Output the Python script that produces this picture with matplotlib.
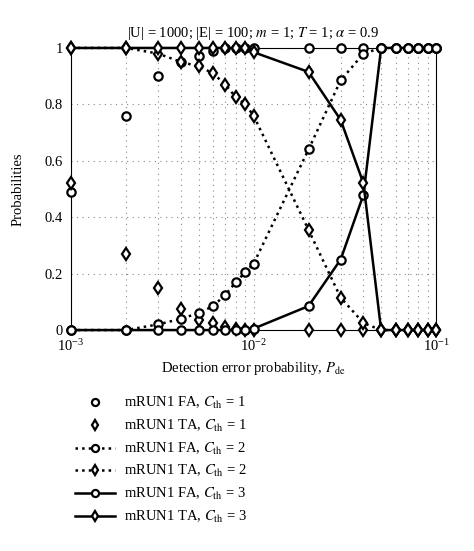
"""
Probabilities vs detection error probability for mRUN1
"""

import numpy as np
import matplotlib as mpl
mpl.use("Agg")
import matplotlib.pyplot as plt

plt.rcParams["font.family"] = ["Liberation Serif", "DejaVu Serif"]
plt.rcParams["mathtext.fontset"] = "stix"

p_de = [0.001, 0.002, 0.003, 0.004, 0.005, 0.006, 0.007, 0.008, 0.009, 0.01,
        0.02, 0.03, 0.04, 0.05, 0.06, 0.07, 0.08, 0.09, 0.1]

fa_c1 = [0.49, 0.76, 0.90, 0.95, 0.97, 0.99, 1.0, 1.0, 1.0, 1.0,
         1.0, 1.0, 1.0, 1.0, 1.0, 1.0, 1.0, 1.0, 1.0]
ta_c1 = [0.52, 0.27, 0.15, 0.075, 0.035, 0.025, 0.012, 0.005, 0.0, 0.0,
         0.0, 0.0, 0.0, 0.0, 0.0, 0.0, 0.0, 0.0, 0.0]
fa_c2 = [0.0, 0.0, 0.02, 0.04, 0.06, 0.085, 0.125, 0.17, 0.205, 0.235,
         0.64, 0.885, 0.98, 1.0, 1.0, 1.0, 1.0, 1.0, 1.0]
ta_c2 = [1.0, 1.0, 0.98, 0.95, 0.935, 0.91, 0.87, 0.825, 0.80, 0.76,
         0.355, 0.115, 0.025, 0.0, 0.0, 0.0, 0.0, 0.0, 0.0]
fa_c3 = [0.0, 0.0, 0.0, 0.0, 0.0, 0.0, 0.0, 0.0, 0.0, 0.005,
         0.085, 0.25, 0.48, 1.0, 1.0, 1.0, 1.0, 1.0, 1.0]
ta_c3 = [1.0, 1.0, 1.0, 1.0, 1.0, 1.0, 1.0, 1.0, 1.0, 0.985,
         0.915, 0.745, 0.52, 0.0, 0.0, 0.0, 0.0, 0.0, 0.0]

series = [
    (fa_c1, "none", "o", "mRUN1 FA, $C_{\\mathrm{th}}$ = 1"),
    (ta_c1, "none", "d", "mRUN1 TA, $C_{\\mathrm{th}}$ = 1"),
    (fa_c2, ":", "o", "mRUN1 FA, $C_{\\mathrm{th}}$ = 2"),
    (ta_c2, ":", "d", "mRUN1 TA, $C_{\\mathrm{th}}$ = 2"),
    (fa_c3, "-", "o", "mRUN1 FA, $C_{\\mathrm{th}}$ = 3"),
    (ta_c3, "-", "d", "mRUN1 TA, $C_{\\mathrm{th}}$ = 3"),
]

fig = plt.figure(figsize=(4.74, 5.51), dpi=100)
ax = fig.add_axes([0.150, 0.401, 0.770, 0.512])

for values, ls, marker, label in series:
    ax.plot(p_de, values, linestyle=ls, marker=marker, color="black",
            linewidth=1.8, markersize=6.0 if marker == "o" else 6.5,
            markerfacecolor="white", markeredgecolor="black",
            markeredgewidth=1.6, label=label, clip_on=False, zorder=3)

ax.set_xscale("log")
ax.set_xlim(1e-3, 1e-1)
ax.set_ylim(0, 1)
ax.set_yticks([0, 0.2, 0.4, 0.6, 0.8, 1])
ax.set_yticklabels(["0", "0.2", "0.4", "0.6", "0.8", "1"])
ax.grid(True, which="both", axis="x", color="#888888", linestyle=(0, (1, 4)), linewidth=0.8)
ax.grid(True, which="major", axis="y", color="#888888", linestyle=(0, (1, 4)), linewidth=0.8)
ax.tick_params(which="both", direction="in", labelsize=10.5, length=0, pad=6)
for s in ax.spines.values():
    s.set_linewidth(0.8)

ax.set_title("|U| = 1000; |E| = 100; $m$ = 1; $T$ = 1; $\\alpha$ = 0.9", fontsize=10.5, pad=8)
ax.set_xlabel("Detection error probability, $P_{\\mathrm{de}}$", fontsize=10.5, labelpad=4)
ax.set_ylabel("Probabilities", fontsize=10.5, labelpad=14)

ax.legend(loc="upper left", bbox_to_anchor=(0.145, 0.293), bbox_transform=fig.transFigure,
          frameon=False, fontsize=10.5, handlelength=2.8, handletextpad=0.6,
          labelspacing=0.45, borderaxespad=0, markerscale=0.85)

fig.savefig("out.png", dpi=100)
